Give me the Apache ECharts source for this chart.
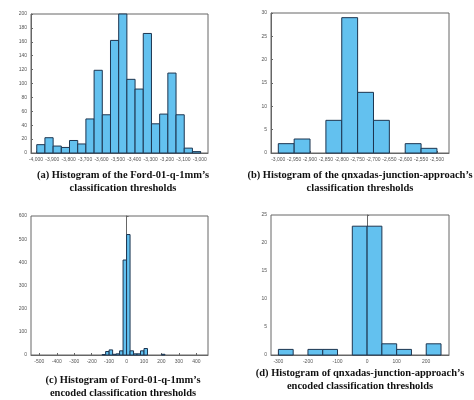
<!DOCTYPE html>
<html>
<head>
<meta charset="utf-8">
<script src="https://cdn.jsdelivr.net/npm/echarts@6/dist/echarts.min.js"></script>
<style>
html,body{margin:0;padding:0;background:#fff;}
#box{width:474px;height:400px;}
</style>
</head>
<body>
<div id="box"></div>
<script>
// (a) Ford-01-q-1mm thresholds
var aEdges = [-3995,-3945,-3895,-3845,-3795,-3745,-3695,-3645,-3595,-3545,-3495,-3445,-3395,-3345,-3295,-3245,-3195,-3145,-3095,-3045,-2995];
var aCounts = [12,22,10,8,18,13,49,119,55,162,200,106,92,172,42,56,115,55,7,2];
// (b) qnxadas-junction-approach thresholds
var bEdges = [-3000,-2950,-2900,-2850,-2800,-2750,-2700,-2650,-2600,-2550,-2500];
var bCounts = [2,3,0,7,29,13,7,0,2,1];
// (c) Ford-01-q-1mm encoded thresholds
var cEdges = [-140,-120,-100,-80,-60,-40,-20,0,20,40,60,80,100,120,140,160,180,200,220];
var cCounts = [2,15,22,3,5,18,410,520,18,5,5,18,28,0,0,0,0,3];
// (d) qnxadas-junction-approach encoded thresholds
var dEdges = [-300,-250,-200,-150,-100,-50,0,50,100,150,200,250];
var dCounts = [1,0,1,1,0,23,23,2,1,0,2];

var captions = [
    '(a) Histogram of the Ford-01-q-1mm\u2019s\nclassification thresholds',
    '(b) Histogram of the qnxadas-junction-approach\u2019s\nclassification thresholds',
    '(c) Histogram of Ford-01-q-1mm\u2019s\nencoded classification thresholds',
    '(d) Histogram of qnxadas-junction-approach\u2019s\nencoded classification thresholds'
];

var dom = document.getElementById('box');
var myChart = echarts.init(dom);

function toRows(edges, counts) {
    var rows = [];
    for (var i = 0; i < counts.length; i++) {
        if (counts[i] > 0) rows.push([edges[i], edges[i + 1], counts[i]]);
    }
    return rows;
}

function renderBin(params, api) {
    var p0 = api.coord([api.value(0), 0]);
    var p1 = api.coord([api.value(1), api.value(2)]);
    return {
        type: 'rect',
        shape: {x: p0[0], y: p1[1], width: p1[0] - p0[0], height: p0[1] - p1[1]},
        style: {fill: '#63c1ef', stroke: '#1d3550', lineWidth: 1}
    };
}

var grids = [
    {left: 31, top: 14, width: 177, height: 139},
    {left: 271, top: 13, width: 178, height: 140},
    {left: 31, top: 216, width: 177, height: 139},
    {left: 271, top: 215, width: 178, height: 140}
];
var xr = [[-4030, -2950, 100], [-3023, -2462, 50], [-548, 467, 100], [-325, 277, 100]];
var yr = [[200, 20], [30, 5], [600, 100], [25, 5]];
var rows = [toRows(aEdges, aCounts), toRows(bEdges, bCounts), toRows(cEdges, cCounts), toRows(dEdges, dCounts)];

var lbl = {fontSize: 5, color: '#555', fontFamily: 'Liberation Sans'};
var option = {
    animation: false,
    grid: grids.map(function (g) {
        return Object.assign({show: true, borderColor: '#666', borderWidth: 1, backgroundColor: '#fff'}, g);
    }),
    xAxis: xr.map(function (r, i) {
        return {
            type: 'value', gridIndex: i, min: r[0], max: r[1], splitNumber: 11,
            minInterval: r[2], maxInterval: r[2],
            axisLine: {show: true, onZero: false, lineStyle: {color: '#666'}},
            axisTick: {inside: true, length: 2, lineStyle: {color: '#666'}},
            axisLabel: Object.assign({margin: 4, showMinLabel: false, showMaxLabel: false}, lbl),
            splitLine: {show: false}
        };
    }),
    yAxis: yr.map(function (r, i) {
        return {
            type: 'value', gridIndex: i, min: 0, max: r[0], interval: r[1],
            axisLine: {show: true, lineStyle: {color: '#666'}},
            axisTick: {inside: true, length: 2, lineStyle: {color: '#666'}},
            axisLabel: Object.assign({margin: 4}, lbl),
            splitLine: {show: false}
        };
    }),
    title: captions.map(function (t, i) {
        return {
            text: t, left: i % 2 ? 355 : 118, top: [164, 164, 369, 362][i], textAlign: 'center',
            textStyle: {fontFamily: 'Liberation Serif', fontWeight: 'bold', fontSize: 10.5, lineHeight: 13, color: '#111'}
        };
    }),
    series: rows.map(function (r, i) {
        return {type: 'custom', xAxisIndex: i, yAxisIndex: i, renderItem: renderBin, encode: {x: [0, 1], y: 2}, data: r};
    })
};
myChart.setOption(option, true);
</script>
</body>
</html>
